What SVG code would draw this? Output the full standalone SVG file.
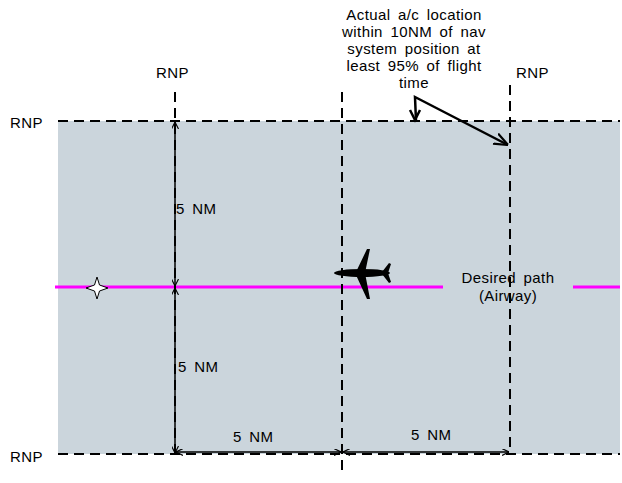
<svg xmlns="http://www.w3.org/2000/svg" width="622" height="483" viewBox="0 0 622 483">
<style>
text{font-family:"Liberation Sans",Arial,sans-serif;font-size:15px;letter-spacing:0.4px;word-spacing:3px;fill:#000}
.d{stroke:#000;stroke-width:2;stroke-dasharray:10,6;fill:none}
.a{stroke:#000;stroke-width:1.5;fill:none;marker-start:url(#h);marker-end:url(#h)}
</style>
<defs>
<marker id="h" viewBox="0 0 10 10" refX="10" refY="5" markerWidth="7" markerHeight="7" orient="auto-start-reverse" markerUnits="userSpaceOnUse"><path d="M0,0 L10,5 L0,10" fill="none" stroke="#000" stroke-width="1.6"/></marker>
<marker id="h2" viewBox="0 0 10 10" refX="10" refY="5" markerWidth="14" markerHeight="14" orient="auto" markerUnits="userSpaceOnUse"><path d="M0,1 L10,5 L0,9" fill="none" stroke="#000" stroke-width="1.6"/></marker>
</defs>
<rect x="58" y="121" width="562" height="333" fill="#cbd5dc"/>
<g id="path">
<line x1="55" y1="287" x2="443" y2="287" stroke="#ff00ff" stroke-width="3"/>
<line x1="573" y1="287" x2="620" y2="287" stroke="#ff00ff" stroke-width="3"/>
</g>
<g id="lines">
<line class="d" x1="58" y1="121" x2="620" y2="121"/>
<line class="d" x1="58" y1="454" x2="620" y2="454"/>
<line class="d" x1="175" y1="92" x2="175" y2="456"/>
<line class="d" x1="342" y1="92" x2="342" y2="476"/>
<line class="d" x1="510" y1="85" x2="510" y2="454"/>
</g>
<g id="connectors">
<line class="a" x1="175" y1="122" x2="175" y2="286"/>
<line class="a" x1="175" y1="288" x2="175" y2="453"/>
<line class="a" x1="176" y1="452" x2="341" y2="452"/>
<line class="a" x1="343" y1="452" x2="509" y2="452"/>
<path d="M416,121 L415,97 L508,145" fill="none" stroke="#000" stroke-width="2.5" marker-end="url(#h2)"/>
<path d="M410,110 L415,120 L420,110" fill="none" stroke="#000" stroke-width="2.5"/>
</g>
<g id="star"><path d="M97,277 L99.5,285 L108,288 L99.5,291 L97,299 L94.5,291 L86,288 L94.5,285 Z" fill="#fff" stroke="#000" stroke-width="1"/></g>
<g id="plane" fill="#000">
<ellipse cx="362" cy="273" rx="28" ry="4"/>
<path d="M356,272 L367,249 L370,249 L365,273 L370,299 L367,299 L356,275 Z"/>
<path d="M382,272 L389,263 L391,264 L388,273 L391,282 L389,283 L382,274 Z"/>
</g>
<g id="labels">
<text x="156" y="78">RNP</text>
<text x="516" y="78">RNP</text>
<text x="10" y="128">RNP</text>
<text x="10" y="462">RNP</text>
<text x="176" y="214">5 NM</text>
<text x="178" y="372">5 NM</text>
<text x="233" y="442">5 NM</text>
<text x="411" y="440">5 NM</text>
<text x="508" y="283" text-anchor="middle">Desired path</text>
<text x="508" y="301" text-anchor="middle">(Airway)</text>
<text text-anchor="middle"><tspan x="414" y="20">Actual a/c location</tspan><tspan x="414" y="37">within 10NM of nav</tspan><tspan x="414" y="54">system position at</tspan><tspan x="414" y="71">least 95% of flight</tspan><tspan x="414" y="88">time</tspan></text>
</g>
</svg>
